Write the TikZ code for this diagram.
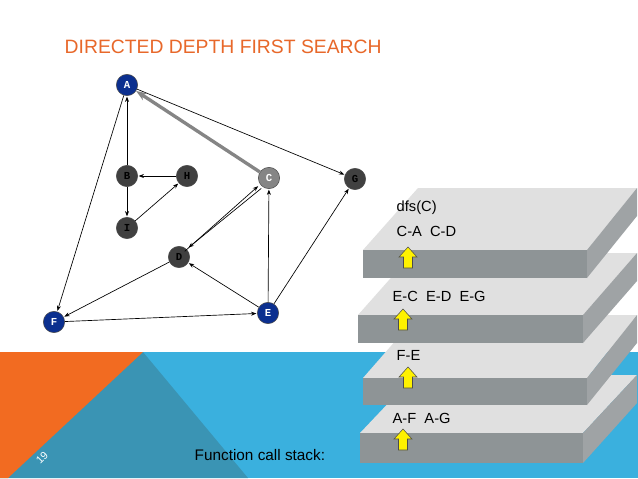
\documentclass[tikz,border=0pt]{standalone}
\usepackage{fontspec}
\setmainfont{Liberation Sans}
\setmonofont{Liberation Mono}
\usetikzlibrary{arrows.meta}
\definecolor{nblue}{HTML}{0B2F8F}
\definecolor{ndark}{HTML}{404040}
\definecolor{ngray}{HTML}{858585}
\definecolor{bgblue}{HTML}{3AB0DE}
\definecolor{bgteal}{HTML}{3A94B4}
\definecolor{bgorange}{HTML}{F26B21}
\definecolor{ttl}{HTML}{E8682A}
\definecolor{topf}{HTML}{E0E0E0}
\definecolor{frontf}{HTML}{8E9496}
\definecolor{sidef}{HTML}{9FA3A5}
\begin{document}
\begin{tikzpicture}[x=0.75pt,y=-0.75pt,
  vx/.style={circle,draw=black!70,line width=0.4pt,minimum size=16pt,inner sep=0pt,font=\ttfamily\bfseries\footnotesize},
  bv/.style={vx,fill=nblue,text=white},
  dv/.style={vx,fill=ndark,text=black},
  gv/.style={vx,fill=ngray,text=white},
  ed/.style={-{Stealth[length=4pt,width=3pt]},line width=0.5pt,shorten >=0.5pt},
  lab/.style={anchor=west,font=\fontsize{11}{12}\selectfont},
  yarr/.style={fill=yellow,draw=black!70,line width=0.4pt}]
\useasboundingbox (0,0) rectangle (638,478);
\fill[white] (0,0) rectangle (638,478);
\fill[bgblue] (0,352) rectangle (638,478);
\fill[bgteal] (143,352) -- (248,478) -- (0,478) -- cycle;
\fill[bgorange] (0,352) -- (143,352) -- (8,478) -- (0,478) -- cycle;
\node[text=ttl,anchor=west,font=\fontsize{14.5}{16}\selectfont] (title) at (60,47) {DIRECTED DEPTH FIRST SEARCH};
% nodes
\node[bv] (A) at (127,85) {A};
\node[dv] (B) at (127,176) {B};
\node[dv] (H) at (187,176) {H};
\node[gv] (C) at (269,178) {C};
\node[dv] (G) at (355,179) {G};
\node[dv] (I) at (127,228) {I};
\node[dv] (D) at (179,257) {D};
\node[bv] (E) at (268,313) {E};
\node[bv] (F) at (54,322) {F};
\draw[ed] (A) -- (G);
\draw[ed] (A) -- (F);
\draw[ed] (B) -- (A);
\draw[ed] (H) -- (B);
\draw[ed] (B) -- (I);
\draw[ed] (I) -- (H);
\draw[ed] ([xshift=-1.5pt,yshift=-1.5pt]D.north east) -- ([xshift=-2pt]C.south west);
\draw[ed] ([yshift=-2pt]C.south west) -- ([xshift=1pt,yshift=1pt]D.north east);
\draw[ed] (E) -- (D);
\draw[ed] (E) -- (C);
\draw[ed] (E) -- (G);
\draw[ed] (D) -- (F);
\draw[ed] (F) -- (E);
\draw[-{Stealth[length=8pt,width=6pt]},line width=2.5pt,draw=ngray] (C) -- (A);
% stack slabs
\foreach \l/\r/\ft/\fb/\bk in {360/583/433/463/375, 363/587/378/405/315, 358/583/315/343/253, 363/587/250/278/188}{
  \fill[topf] (\l,\ft) -- (\r,\ft) -- (637,\bk) -- (\l+55,\bk) -- cycle;
  \fill[sidef] (\r,\ft) -- (637,\bk) -- (637,\bk+28) -- (\r,\fb) -- cycle;
  \fill[frontf] (\l,\ft) rectangle (\r,\fb);
}
\node[lab] (t1) at (392,208) {dfs(C)};
\node[lab] (t2) at (392,231) {C-A\ \ C-D};
\node[lab] (t3) at (388,296) {E-C\ \ E-D\ \ E-G};
\node[lab] (t4) at (392,355) {F-E};
\node[lab] (t5) at (388,418) {A-F\ \ A-G};
\foreach \x/\y in {408/247, 403/309, 408/367, 403/429}{
  \draw[yarr] (\x,\y) -- (\x+9,\y+10) -- (\x+4.5,\y+10) -- (\x+4.5,\y+21) -- (\x-4.5,\y+21) -- (\x-4.5,\y+10) -- (\x-9,\y+10) -- cycle;
}
\node[anchor=west,font=\fontsize{11.5}{12}\selectfont] (fcs) at (190,455) {Function call stack:};
\node[text=white,rotate=45,inner sep=0pt,font=\fontsize{8}{9}\selectfont] (pg) at (42,458) {19};
\end{tikzpicture}
\end{document}
